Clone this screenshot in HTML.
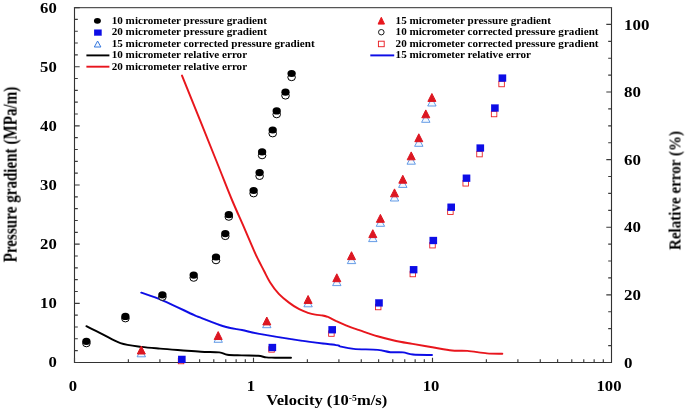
<!DOCTYPE html><html><head><meta charset="utf-8"><title>chart</title><style>html,body{margin:0;padding:0;background:#fff}svg{display:block}text{font-family:"Liberation Serif","Times New Roman",serif;font-weight:bold;fill:#000}</style></head><body>
<svg width="685" height="413" viewBox="0 0 685 413">
<defs><filter id="soft" x="-2%" y="-2%" width="104%" height="104%"><feGaussianBlur stdDeviation="0.32"/></filter></defs>
<rect width="685" height="413" fill="#fff"/>
<g filter="url(#soft)">
<path d="M74.5 7.55V362.45H611.5V7.55" fill="none" stroke="#303030" stroke-width="1.1"/>
<path d="M73.9 7.55H612.1" fill="none" stroke="#555" stroke-width="1.2"/>
<path d="M74.5 362.45h5.2 M74.5 350.62h3.3 M74.5 338.79h3.3 M74.5 326.96h3.3 M74.5 315.13h3.3 M74.5 303.30h5.2 M74.5 291.47h3.3 M74.5 279.64h3.3 M74.5 267.81h3.3 M74.5 255.98h3.3 M74.5 244.15h5.2 M74.5 232.32h3.3 M74.5 220.49h3.3 M74.5 208.66h3.3 M74.5 196.83h3.3 M74.5 185.00h5.2 M74.5 173.17h3.3 M74.5 161.34h3.3 M74.5 149.51h3.3 M74.5 137.68h3.3 M74.5 125.85h5.2 M74.5 114.02h3.3 M74.5 102.19h3.3 M74.5 90.36h3.3 M74.5 78.53h3.3 M74.5 66.70h5.2 M74.5 54.87h3.3 M74.5 43.04h3.3 M74.5 31.21h3.3 M74.5 19.38h3.3 M74.5 7.55h5.2 M611.5 362.45h-5.2 M611.5 345.55h-3.3 M611.5 328.64h-3.3 M611.5 311.74h-3.3 M611.5 294.84h-5.2 M611.5 277.94h-3.3 M611.5 261.03h-3.3 M611.5 244.13h-3.3 M611.5 227.23h-5.2 M611.5 210.33h-3.3 M611.5 193.42h-3.3 M611.5 176.52h-3.3 M611.5 159.62h-5.2 M611.5 142.72h-3.3 M611.5 125.81h-3.3 M611.5 108.91h-3.3 M611.5 92.01h-5.2 M611.5 75.11h-3.3 M611.5 58.20h-3.3 M611.5 41.30h-3.3 M611.5 24.40h-5.2 M74.50 362.45v-4.6 M128.38 362.45v-3.3 M159.90 362.45v-3.3 M182.27 362.45v-3.3 M199.62 362.45v-3.3 M213.79 362.45v-3.3 M225.77 362.45v-3.3 M236.15 362.45v-3.3 M245.31 362.45v-3.3 M253.50 362.45v-4.6 M307.38 362.45v-3.3 M338.90 362.45v-3.3 M361.27 362.45v-3.3 M378.62 362.45v-3.3 M392.79 362.45v-3.3 M404.77 362.45v-3.3 M415.15 362.45v-3.3 M424.31 362.45v-3.3 M432.50 362.45v-4.6 M486.38 362.45v-3.3 M517.90 362.45v-3.3 M540.27 362.45v-3.3 M557.62 362.45v-3.3 M571.79 362.45v-3.3 M583.77 362.45v-3.3 M594.15 362.45v-3.3 M603.31 362.45v-3.3" fill="none" stroke="#3a3a3a" stroke-width="1.15"/>
<path d="M86.4 326.2C89.1 327.6 97.0 331.5 102.7 334.3C108.4 337.1 114.0 341.0 120.4 343.1C126.8 345.2 134.7 346.0 141.3 346.9C147.9 347.8 153.5 348.1 160.0 348.6C166.5 349.2 173.6 349.7 180.4 350.2C187.2 350.7 194.4 351.3 200.9 351.7C207.4 352.1 214.9 351.9 219.3 352.4C223.7 352.9 223.7 354.2 227.4 354.7C231.2 355.2 236.7 355.2 241.8 355.4C246.9 355.6 254.0 355.5 258.1 355.8C262.2 356.1 263.5 357.1 266.3 357.4C269.1 357.7 270.9 357.6 275.0 357.7C279.1 357.8 288.3 357.8 291.0 357.8" fill="none" stroke="#000" stroke-width="1.95" stroke-linejoin="round" stroke-linecap="round"/>
<path d="M141.3 292.7C144.8 294.0 153.7 296.6 162.4 300.3C171.1 304.0 187.4 312.0 193.7 314.9C200.0 317.8 194.8 315.4 200.0 317.4C205.2 319.4 218.2 324.7 225.2 326.8C232.2 328.9 236.5 328.9 242.0 330.0C247.5 331.1 248.2 331.8 258.0 333.6C267.8 335.4 287.8 338.7 300.8 340.6C313.8 342.5 329.5 344.1 336.0 345.1C342.5 346.1 337.1 345.8 340.0 346.4C342.9 347.0 347.4 348.3 353.7 348.9C360.0 349.5 371.7 349.3 377.8 349.9C383.9 350.4 386.2 351.8 390.4 352.2C394.6 352.6 399.2 352.0 403.0 352.4C406.8 352.8 408.2 354.1 413.0 354.5C417.8 354.9 428.8 354.9 432.0 355.0" fill="none" stroke="#0b0be6" stroke-width="1.95" stroke-linejoin="round" stroke-linecap="round"/>
<path d="M182.0 75.6C187.7 89.7 207.7 139.3 216.0 160.0C224.3 180.7 227.3 188.8 232.0 200.0C236.7 211.2 240.2 218.6 243.9 227.1C247.6 235.6 251.7 245.3 254.1 250.8C256.5 256.3 256.7 256.6 258.4 260.0C260.1 263.4 262.3 267.5 264.2 271.2C266.1 274.9 267.6 278.4 270.0 282.2C272.4 286.0 275.6 290.5 278.8 293.9C282.0 297.3 285.6 300.1 289.0 302.6C292.4 305.2 296.0 307.5 299.2 309.2C302.4 310.9 305.3 311.9 308.0 312.8C310.7 313.7 312.9 314.2 315.3 314.6C317.7 315.1 320.4 315.1 322.6 315.5C324.8 315.9 326.2 316.3 328.4 317.2C330.6 318.1 332.8 319.5 335.7 320.9C338.6 322.2 342.2 323.9 345.9 325.3C349.5 326.8 355.2 328.8 357.6 329.6C360.0 330.5 356.7 329.3 360.0 330.4C363.3 331.5 371.7 334.6 377.5 336.3C383.3 338.0 389.1 339.4 395.0 340.7C400.9 342.0 406.4 342.8 412.6 343.9C418.8 345.0 425.7 346.1 432.3 347.2C438.9 348.3 446.2 349.9 452.0 350.5C457.8 351.1 461.5 350.4 467.3 350.9C473.1 351.4 481.2 352.9 487.0 353.4C492.8 353.9 499.8 353.7 502.3 353.8" fill="none" stroke="#e8161c" stroke-width="1.95" stroke-linejoin="round" stroke-linecap="round"/>
<ellipse cx="86.4" cy="343.4" rx="3.8" ry="3.4" fill="#fff" stroke="#000" stroke-width="1"/>
<ellipse cx="125.4" cy="318.5" rx="3.8" ry="3.4" fill="#fff" stroke="#000" stroke-width="1"/>
<ellipse cx="162.4" cy="297.0" rx="3.8" ry="3.4" fill="#fff" stroke="#000" stroke-width="1"/>
<ellipse cx="193.7" cy="277.9" rx="3.8" ry="3.4" fill="#fff" stroke="#000" stroke-width="1"/>
<ellipse cx="216.0" cy="260.4" rx="3.8" ry="3.4" fill="#fff" stroke="#000" stroke-width="1"/>
<ellipse cx="225.3" cy="236.2" rx="3.8" ry="3.4" fill="#fff" stroke="#000" stroke-width="1"/>
<ellipse cx="228.8" cy="216.9" rx="3.8" ry="3.4" fill="#fff" stroke="#000" stroke-width="1"/>
<ellipse cx="253.6" cy="193.5" rx="3.8" ry="3.4" fill="#fff" stroke="#000" stroke-width="1"/>
<ellipse cx="259.6" cy="176.1" rx="3.8" ry="3.4" fill="#fff" stroke="#000" stroke-width="1"/>
<ellipse cx="262.1" cy="155.4" rx="3.8" ry="3.4" fill="#fff" stroke="#000" stroke-width="1"/>
<ellipse cx="272.7" cy="133.5" rx="3.8" ry="3.4" fill="#fff" stroke="#000" stroke-width="1"/>
<ellipse cx="276.7" cy="114.4" rx="3.8" ry="3.4" fill="#fff" stroke="#000" stroke-width="1"/>
<ellipse cx="285.5" cy="95.7" rx="3.8" ry="3.4" fill="#fff" stroke="#000" stroke-width="1"/>
<ellipse cx="291.6" cy="77.3" rx="3.8" ry="3.4" fill="#fff" stroke="#000" stroke-width="1"/>
<path d="M141.30 349.20L145.50 356.80H137.10Z" fill="#f4f9ff" stroke="#4a8be2" stroke-width="0.85" stroke-linejoin="round"/>
<path d="M218.20 334.70L222.40 342.30H214.00Z" fill="#f4f9ff" stroke="#4a8be2" stroke-width="0.85" stroke-linejoin="round"/>
<path d="M266.80 320.10L271.00 327.70H262.60Z" fill="#f4f9ff" stroke="#4a8be2" stroke-width="0.85" stroke-linejoin="round"/>
<path d="M308.10 299.20L312.30 306.80H303.90Z" fill="#f4f9ff" stroke="#4a8be2" stroke-width="0.85" stroke-linejoin="round"/>
<path d="M336.80 278.00L341.00 285.60H332.60Z" fill="#f4f9ff" stroke="#4a8be2" stroke-width="0.85" stroke-linejoin="round"/>
<path d="M351.50 256.00L355.70 263.60H347.30Z" fill="#f4f9ff" stroke="#4a8be2" stroke-width="0.85" stroke-linejoin="round"/>
<path d="M372.80 234.00L377.00 241.60H368.60Z" fill="#f4f9ff" stroke="#4a8be2" stroke-width="0.85" stroke-linejoin="round"/>
<path d="M380.40 218.70L384.60 226.30H376.20Z" fill="#f4f9ff" stroke="#4a8be2" stroke-width="0.85" stroke-linejoin="round"/>
<path d="M394.50 193.40L398.70 201.00H390.30Z" fill="#f4f9ff" stroke="#4a8be2" stroke-width="0.85" stroke-linejoin="round"/>
<path d="M402.80 179.80L407.00 187.40H398.60Z" fill="#f4f9ff" stroke="#4a8be2" stroke-width="0.85" stroke-linejoin="round"/>
<path d="M411.20 156.60L415.40 164.20H407.00Z" fill="#f4f9ff" stroke="#4a8be2" stroke-width="0.85" stroke-linejoin="round"/>
<path d="M418.80 138.70L423.00 146.30H414.60Z" fill="#f4f9ff" stroke="#4a8be2" stroke-width="0.85" stroke-linejoin="round"/>
<path d="M425.80 114.70L430.00 122.30H421.60Z" fill="#f4f9ff" stroke="#4a8be2" stroke-width="0.85" stroke-linejoin="round"/>
<path d="M431.90 98.40L436.10 106.00H427.70Z" fill="#f4f9ff" stroke="#4a8be2" stroke-width="0.85" stroke-linejoin="round"/>
<rect x="178.30" y="358.25" width="5.5" height="5.5" fill="#fff" stroke="#e8161c" stroke-width="0.85"/>
<rect x="268.80" y="346.65" width="5.5" height="5.5" fill="#fff" stroke="#e8161c" stroke-width="0.85"/>
<rect x="328.65" y="330.80" width="5.5" height="5.5" fill="#fff" stroke="#e8161c" stroke-width="0.85"/>
<rect x="375.45" y="304.25" width="5.5" height="5.5" fill="#fff" stroke="#e8161c" stroke-width="0.85"/>
<rect x="410.05" y="271.25" width="5.5" height="5.5" fill="#fff" stroke="#e8161c" stroke-width="0.85"/>
<rect x="429.75" y="242.45" width="5.5" height="5.5" fill="#fff" stroke="#e8161c" stroke-width="0.85"/>
<rect x="447.65" y="208.95" width="5.5" height="5.5" fill="#fff" stroke="#e8161c" stroke-width="0.85"/>
<rect x="462.95" y="180.55" width="5.5" height="5.5" fill="#fff" stroke="#e8161c" stroke-width="0.85"/>
<rect x="476.75" y="151.35" width="5.5" height="5.5" fill="#fff" stroke="#e8161c" stroke-width="0.85"/>
<rect x="491.35" y="111.25" width="5.5" height="5.5" fill="#fff" stroke="#e8161c" stroke-width="0.85"/>
<rect x="498.85" y="81.25" width="5.5" height="5.5" fill="#fff" stroke="#e8161c" stroke-width="0.85"/>
<ellipse cx="86.4" cy="341.3" rx="4.15" ry="3.6" fill="#000"/>
<ellipse cx="125.4" cy="316.4" rx="4.15" ry="3.6" fill="#000"/>
<ellipse cx="162.4" cy="294.8" rx="4.15" ry="3.6" fill="#000"/>
<ellipse cx="193.7" cy="275.1" rx="4.15" ry="3.6" fill="#000"/>
<ellipse cx="216.0" cy="257.0" rx="4.15" ry="3.6" fill="#000"/>
<ellipse cx="225.3" cy="233.6" rx="4.15" ry="3.6" fill="#000"/>
<ellipse cx="228.8" cy="214.7" rx="4.15" ry="3.6" fill="#000"/>
<ellipse cx="253.6" cy="190.5" rx="4.15" ry="3.6" fill="#000"/>
<ellipse cx="259.6" cy="172.6" rx="4.15" ry="3.6" fill="#000"/>
<ellipse cx="262.1" cy="151.9" rx="4.15" ry="3.6" fill="#000"/>
<ellipse cx="272.7" cy="130.0" rx="4.15" ry="3.6" fill="#000"/>
<ellipse cx="276.7" cy="110.9" rx="4.15" ry="3.6" fill="#000"/>
<ellipse cx="285.5" cy="92.2" rx="4.15" ry="3.6" fill="#000"/>
<ellipse cx="291.6" cy="73.5" rx="4.15" ry="3.6" fill="#000"/>
<path d="M141.30 346.10L145.30 354.00H137.30Z" fill="#dc1420" stroke="#dc1420" stroke-width="1" stroke-linejoin="round"/>
<path d="M218.20 331.60L222.20 339.50H214.20Z" fill="#dc1420" stroke="#dc1420" stroke-width="1" stroke-linejoin="round"/>
<path d="M266.80 317.00L270.80 324.90H262.80Z" fill="#dc1420" stroke="#dc1420" stroke-width="1" stroke-linejoin="round"/>
<path d="M308.10 295.50L312.10 303.40H304.10Z" fill="#dc1420" stroke="#dc1420" stroke-width="1" stroke-linejoin="round"/>
<path d="M336.80 273.80L340.80 281.70H332.80Z" fill="#dc1420" stroke="#dc1420" stroke-width="1" stroke-linejoin="round"/>
<path d="M351.50 251.70L355.50 259.60H347.50Z" fill="#dc1420" stroke="#dc1420" stroke-width="1" stroke-linejoin="round"/>
<path d="M372.80 229.70L376.80 237.60H368.80Z" fill="#dc1420" stroke="#dc1420" stroke-width="1" stroke-linejoin="round"/>
<path d="M380.40 214.40L384.40 222.30H376.40Z" fill="#dc1420" stroke="#dc1420" stroke-width="1" stroke-linejoin="round"/>
<path d="M394.50 188.90L398.50 196.80H390.50Z" fill="#dc1420" stroke="#dc1420" stroke-width="1" stroke-linejoin="round"/>
<path d="M402.80 175.30L406.80 183.20H398.80Z" fill="#dc1420" stroke="#dc1420" stroke-width="1" stroke-linejoin="round"/>
<path d="M411.20 151.90L415.20 159.80H407.20Z" fill="#dc1420" stroke="#dc1420" stroke-width="1" stroke-linejoin="round"/>
<path d="M418.80 133.80L422.80 141.70H414.80Z" fill="#dc1420" stroke="#dc1420" stroke-width="1" stroke-linejoin="round"/>
<path d="M425.80 109.90L429.80 117.80H421.80Z" fill="#dc1420" stroke="#dc1420" stroke-width="1" stroke-linejoin="round"/>
<path d="M431.90 93.50L435.90 101.40H427.90Z" fill="#dc1420" stroke="#dc1420" stroke-width="1" stroke-linejoin="round"/>
<rect x="178.05" y="355.75" width="7.6" height="7.3" fill="#0b0be6"/>
<rect x="268.55" y="343.85" width="7.6" height="7.3" fill="#0b0be6"/>
<rect x="328.40" y="326.10" width="7.6" height="7.3" fill="#0b0be6"/>
<rect x="375.20" y="299.25" width="7.6" height="7.3" fill="#0b0be6"/>
<rect x="409.80" y="266.05" width="7.6" height="7.3" fill="#0b0be6"/>
<rect x="429.50" y="236.85" width="7.6" height="7.3" fill="#0b0be6"/>
<rect x="447.40" y="203.55" width="7.6" height="7.3" fill="#0b0be6"/>
<rect x="462.70" y="174.55" width="7.6" height="7.3" fill="#0b0be6"/>
<rect x="476.50" y="144.35" width="7.6" height="7.3" fill="#0b0be6"/>
<rect x="491.10" y="104.35" width="7.6" height="7.3" fill="#0b0be6"/>
<rect x="498.60" y="74.45" width="7.6" height="7.3" fill="#0b0be6"/>
<ellipse cx="97.39999999999999" cy="20.799999999999997" rx="3.5" ry="2.9" fill="#000"/>
<text transform="translate(111.7 23.8) scale(0.995 1)" font-size="11.2" text-anchor="start" xml:space="preserve">10 micrometer pressure gradient</text>
<rect x="94.1" y="29.5" width="7.6" height="6.2" fill="#0b0be6"/>
<text transform="translate(111.7 35.2) scale(0.995 1)" font-size="11.2" text-anchor="start" xml:space="preserve">20 micrometer pressure gradient</text>
<path d="M97.60 41.00L100.90 47.00H94.30Z" fill="#f4f8ff" stroke="#3578de" stroke-width="1" stroke-linejoin="round"/>
<text transform="translate(111.7 46.7) scale(0.995 1)" font-size="11.2" text-anchor="start" xml:space="preserve">15 micrometer corrected pressure gradient</text>
<path d="M86.4 55.400000000000006H109.4" stroke="#000" stroke-width="1.9"/>
<text transform="translate(111.7 58.0) scale(0.995 1)" font-size="11.2" text-anchor="start" xml:space="preserve">10 micrometer relative error</text>
<path d="M86.4 66.69999999999999H109.4" stroke="#e8161c" stroke-width="1.9"/>
<text transform="translate(111.7 69.5) scale(0.995 1)" font-size="11.2" text-anchor="start" xml:space="preserve">20 micrometer relative error</text>
<path d="M381.30 17.30L384.50 24.10H378.10Z" fill="#e8161c" stroke="#e8161c" stroke-width="1" stroke-linejoin="round"/>
<text transform="translate(395.6 23.8) scale(0.995 1)" font-size="11.2" text-anchor="start" xml:space="preserve">15 micrometer pressure gradient</text>
<ellipse cx="381.3" cy="32.2" rx="2.8" ry="2.7" fill="#fff" stroke="#000" stroke-width="0.9"/>
<text transform="translate(395.6 35.2) scale(0.995 1)" font-size="11.2" text-anchor="start" xml:space="preserve">10 micrometer corrected pressure gradient</text>
<rect x="378.40000000000003" y="41.199999999999996" width="5.8" height="5.5" fill="#fff" stroke="#e8161c" stroke-width="0.9"/>
<text transform="translate(395.6 46.7) scale(0.995 1)" font-size="11.2" text-anchor="start" xml:space="preserve">20 micrometer corrected pressure gradient</text>
<path d="M370.3 55.400000000000006H394.2" stroke="#0b0be6" stroke-width="1.9"/>
<text transform="translate(395.6 58.0) scale(0.995 1)" font-size="11.2" text-anchor="start" xml:space="preserve">15 micrometer relative error</text>
<text transform="translate(56.8 367.3) scale(1.16 1)" font-size="14.4" text-anchor="end" xml:space="preserve">0</text>
<text transform="translate(56.8 308.2) scale(1.16 1)" font-size="14.4" text-anchor="end" xml:space="preserve">10</text>
<text transform="translate(56.8 249.0) scale(1.16 1)" font-size="14.4" text-anchor="end" xml:space="preserve">20</text>
<text transform="translate(56.8 189.9) scale(1.16 1)" font-size="14.4" text-anchor="end" xml:space="preserve">30</text>
<text transform="translate(56.8 130.8) scale(1.16 1)" font-size="14.4" text-anchor="end" xml:space="preserve">40</text>
<text transform="translate(56.8 71.6) scale(1.16 1)" font-size="14.4" text-anchor="end" xml:space="preserve">50</text>
<text transform="translate(56.8 12.5) scale(1.16 1)" font-size="14.4" text-anchor="end" xml:space="preserve">60</text>
<text transform="translate(624 367.6) scale(1.115 1)" font-size="15.2" text-anchor="start" xml:space="preserve">0</text>
<text transform="translate(624 299.9) scale(1.115 1)" font-size="15.2" text-anchor="start" xml:space="preserve">20</text>
<text transform="translate(624 232.3) scale(1.115 1)" font-size="15.2" text-anchor="start" xml:space="preserve">40</text>
<text transform="translate(624 164.7) scale(1.115 1)" font-size="15.2" text-anchor="start" xml:space="preserve">60</text>
<text transform="translate(624 97.1) scale(1.115 1)" font-size="15.2" text-anchor="start" xml:space="preserve">80</text>
<text transform="translate(624 29.5) scale(1.115 1)" font-size="15.2" text-anchor="start" xml:space="preserve">100</text>
<text transform="translate(73 390.6) scale(1.16 1)" font-size="14.4" text-anchor="middle" xml:space="preserve">0</text>
<text transform="translate(250.8 390.6) scale(1.16 1)" font-size="14.4" text-anchor="middle" xml:space="preserve">1</text>
<text transform="translate(431 390.6) scale(1.16 1)" font-size="14.4" text-anchor="middle" xml:space="preserve">10</text>
<text transform="translate(609 390.6) scale(1.16 1)" font-size="14.4" text-anchor="middle" xml:space="preserve">100</text>
<text transform="translate(326.8 405.4) scale(1.15 1)" font-size="14.4" text-anchor="middle" xml:space="preserve">Velocity (10<tspan font-size="8.5" dy="-4.6">-5</tspan><tspan dy="4.6">m/s)</tspan></text>
<text transform="translate(16.6 174.5) rotate(-90) scale(0.795 1)" font-size="19" text-anchor="middle" xml:space="preserve">Pressure gradient (MPa/m)</text>
<text transform="translate(680.5 190.5) rotate(-90) scale(0.953 1)" font-size="15.8" text-anchor="middle" xml:space="preserve">Relative error (%)</text>
</g>
</svg></body></html>
